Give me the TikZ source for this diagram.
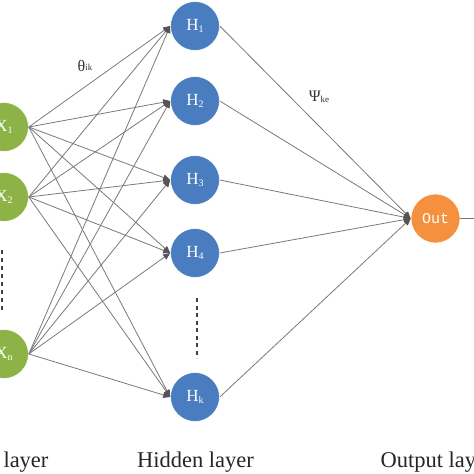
\documentclass[tikz,border=0pt]{standalone}
\usepackage{fontspec}
\setmainfont{Liberation Serif}
\newfontfamily\monofont{Liberation Mono}
\usetikzlibrary{arrows.meta}
\definecolor{ingreen}{HTML}{8DB346}
\definecolor{hidblue}{HTML}{4A7CC0}
\definecolor{outorange}{HTML}{F5913E}
\definecolor{edgegray}{HTML}{7A7A7A}
\definecolor{tipgray}{HTML}{555555}
\newcommand{\lab}[2]{#1{\fontsize{10}{10}\selectfont\raisebox{-2.5pt}{#2}}}
\begin{document}
\begin{tikzpicture}[x=1pt,y=-1pt,
  neuron/.style={circle,minimum size=49pt,inner sep=0pt,draw=white,line width=0.6pt,text=white,font=\fontsize{17}{17}\selectfont},
  inneuron/.style={neuron,fill=ingreen},
  hidneuron/.style={neuron,fill=hidblue},
  outneuron/.style={neuron,fill=outorange,font=\monofont\fontsize{15}{15}\selectfont},
  conn/.style={draw=edgegray,line width=0.8pt,-{Triangle[length=7pt,width=6pt,fill=tipgray,color=tipgray]}},
  plainconn/.style={draw=edgegray,line width=0.8pt},
  dots/.style={draw=black!75,line width=2pt,dash pattern=on 4pt off 4pt},
  layerlab/.style={font=\fontsize{22.5}{22.5}\selectfont,text=black!85},
  weightlab/.style={font=\fontsize{16}{16}\selectfont,text=black!80}
]
\useasboundingbox (0,0) rectangle (474,474);
\fill[white] (0,0) rectangle (474,474);

\node[inneuron] (x1) at (4,127) {\lab{X}{1}};
\node[inneuron] (x2) at (4,197) {\lab{X}{2}};
\node[inneuron] (xn) at (4,354) {\lab{X}{n}};

\node[hidneuron] (h1) at (195,26) {\lab{H}{1}};
\node[hidneuron] (h2) at (195,101) {\lab{H}{2}};
\node[hidneuron] (h3) at (195,180) {\lab{H}{3}};
\node[hidneuron] (h4) at (195,253) {\lab{H}{4}};
\node[hidneuron] (hk) at (195,397) {\lab{H}{k}};

\node[outneuron] (out) at (435.5,218.5) {Out};

\foreach \i in {x1,x2,xn}{
  \foreach \j in {h1,h2,h3,h4,hk}{
    \draw[conn] (\i.east) -- (\j.west);
  }
}
\foreach \j in {h1,h2,h3,h4,hk}{
  \draw[conn] (\j.east) -- (out.west);
}
\coordinate (outend) at (474,218.5);
\draw[plainconn] (out.east) -- (outend);

\coordinate (ld1) at (2,250);
\coordinate (ld2) at (2,310);
\draw[dots,line width=2.5pt] (ld1) -- (ld2);
\coordinate (hd1) at (197,298);
\coordinate (hd2) at (197,358);
\draw[dots,line width=1.6pt,dash pattern=on 4pt off 3.5pt] (hd1) -- (hd2);

\node[weightlab] (theta) at (85,66) {θ\raisebox{1pt}{\fontsize{9}{9}\selectfont ik}};
\node[weightlab] (psi) at (319,97) {Ψ\raisebox{-1pt}{\fontsize{9}{9}\selectfont ke}};

\node[layerlab,anchor=base east] (inlab) at (52,467) {Input layer};
\node[layerlab,anchor=base] (hidlab) at (195.5,467) {Hidden layer};
\node[layerlab,anchor=base west] (outlab) at (377,467) {Output layer};
\end{tikzpicture}
\end{document}
